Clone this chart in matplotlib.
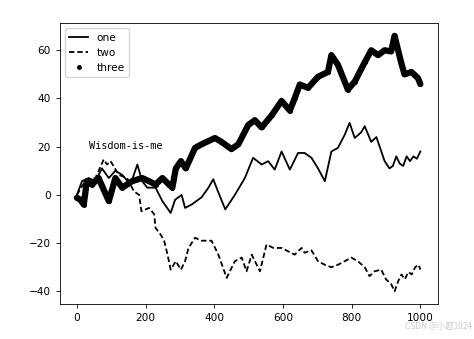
import matplotlib
matplotlib.use('Agg')
import matplotlib.pyplot as plt

# values (step index, walk value)
x_one = [0, 15, 34, 54, 73, 93, 112, 132, 156, 176, 190, 205, 229, 249, 273, 286,
         305, 315, 334, 363, 383, 397, 412, 432, 460, 489, 513, 538, 557, 576, 596,
         620, 644, 663, 683, 702, 722, 741, 760, 780, 794, 809, 828, 838, 857, 872,
         896, 910, 920, 930, 940, 950, 960, 970, 980, 990, 1000]
y_one = [0, 5.7, 7, 5.7, 11, 7, 10, 8.3, 4.3, 12.6, 5.7, 3, 3, -2.6, -7.5, -2,
         0, -5.4, -4, -1, 3, 6.5, 1, -6, 0, 7, 15.4, 12.6, 14, 10.5, 18,
         10.5, 17.4, 17.4, 15.4, 11, 5.7, 18, 19.5, 25, 29.9, 23.6, 26, 28.5, 22, 24,
         14, 11, 12, 16, 13, 12, 16, 14, 16, 15, 18]

x_two = [0, 24, 54, 78, 88, 98, 122, 146, 166, 181, 188, 210, 225, 229, 244, 254,
         264, 273, 288, 303, 315, 325, 344, 363, 392, 412, 436, 460, 480, 494, 509,
         533, 552, 572, 596, 615, 634, 654, 663, 683, 702, 722, 741, 760, 780, 799,
         818, 838, 852, 867, 886, 900, 915, 925, 935, 945, 955, 965, 975, 985, 995, 1000]
y_two = [0, 5.7, 7, 14.7, 12.6, 14, 8.3, 7, 1.5, 0, -6.8, -5.4, -8, -13.7, -16.5, -19,
         -24.8, -31, -27.5, -31, -27.5, -22, -17.8, -19, -19, -24.8, -34.4, -27.5, -26, -31.7, -24.8,
         -31.7, -20.6, -22, -22, -23.4, -24.8, -22, -24, -23, -27.5, -29, -30, -29, -27.5, -26,
         -27.5, -30, -33.7, -31.7, -31, -35, -37, -40, -36, -33, -35, -32, -33, -30, -29, -31]

x_three = [0, 10, 20, 29, 44, 63, 93, 112, 132, 161, 190, 210, 229, 249, 268, 278,
           288, 303, 317, 344, 363, 402, 421, 450, 470, 499, 518, 538, 567, 596, 620,
           634, 649, 673, 702, 731, 741, 760, 789, 809, 838, 857, 877, 896, 915, 925,
           944, 954, 974, 993, 1000]
y_three = [-1.2, -2, -4, 5.7, 4.3, 7, -2.6, 7, 3, 5.7, 7, 5.7, 4.3, 7, 4.3, 3,
           11, 14, 11, 19.5, 21, 23.6, 22, 19, 21, 29, 31, 28, 33, 39, 35,
           40, 45.8, 44.4, 49, 51, 58, 54, 43.7, 47, 55, 60, 58, 60, 59.5, 66,
           55, 50, 51, 48.5, 46]

labels = ['one', 'two', 'three']
note = 'Wisdom-is-me'

fig = plt.figure(figsize=(4.74, 3.39), dpi=100)
ax = fig.add_axes([0.126, 0.103, 0.797, 0.829])

ax.plot(x_one, y_one, 'k-', lw=1.3, label=labels[0])
ax.plot(x_two, y_two, 'k--', lw=1.3, dashes=(3, 1.6), label=labels[1])
# dense dots in the original form a thick band
ax.plot(x_three, y_three, 'k-', lw=4.5, solid_capstyle='round')
ax.plot(x_three, y_three, 'k.', ms=5, label=labels[2])

ax.text(36, 19, note, family='monospace', fontsize=7.4)

ax.tick_params(labelsize=7.6, length=2.7, width=0.6)
for s in ax.spines.values():
    s.set_linewidth(0.6)
ax.legend(loc='best', fontsize=7.6, handlelength=1.8)

fig.text(0.995, 0.03, 'CSDN @小题1024', ha='right', fontsize=6, color='#cccccc',
         family=['Noto Sans CJK SC', 'DejaVu Sans'])

fig.savefig('out.png', dpi=100)
